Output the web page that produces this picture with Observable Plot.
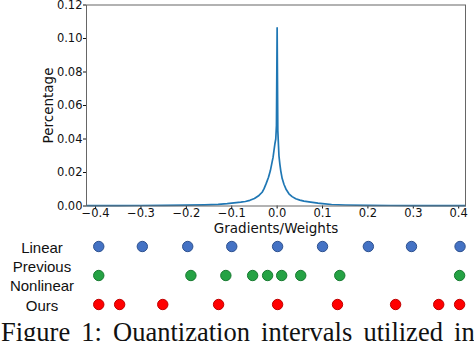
<!DOCTYPE html>
<html>
<head>
<meta charset="utf-8">
<script src="https://cdn.jsdelivr.net/npm/d3@7"></script>
<script src="https://cdn.jsdelivr.net/npm/@observablehq/plot@0.6"></script>
<style>
  html, body { margin: 0; padding: 0; background: #fff; }
  #fig { position: relative; width: 474px; height: 341px; overflow: hidden; background: #fff; }
  #hist { position: absolute; left: 0; top: 0; }
  #levels { position: absolute; left: 0; top: 230px; }
  #caption {
    position: absolute; left: 1px; top: 318.5px; white-space: pre;
    font-family: "Liberation Serif", "Times New Roman", serif; font-size: 26.5px;
    line-height: 26.5px; color: #111; word-spacing: 4.5px;
  }
</style>
</head>
<body>
<div id="fig">
  <div id="hist"></div>
  <div id="levels"></div>
  <div id="caption">Figure 1: Quantization intervals utilized in</div>
</div>
<script>
// Histogram of gradient/weight values (fraction of entries per bin)
const gradX = [
  -0.419, -0.35, -0.30, -0.25, -0.20, -0.16, -0.13, -0.11, -0.10, -0.09,
  -0.08, -0.07, -0.06, -0.05, -0.04, -0.033, -0.029, -0.024, -0.019, -0.015,
  -0.012, -0.009, -0.007, -0.005, -0.003, -0.0015, 0, 0.0015, 0.003, 0.004,
  0.006, 0.008, 0.011, 0.015, 0.020, 0.026, 0.033, 0.041, 0.05, 0.059,
  0.074, 0.09, 0.10, 0.12, 0.15, 0.20, 0.25, 0.30, 0.35, 0.414
];
const gradPct = [
  0.0002, 0.0002, 0.0003, 0.0004, 0.0005, 0.0007, 0.0010, 0.0014, 0.0017, 0.0020,
  0.0023, 0.0027, 0.0034, 0.0045, 0.0063, 0.0082, 0.0102, 0.0135, 0.0172, 0.0210,
  0.0250, 0.0290, 0.0330, 0.0370, 0.0400, 0.0480, 0.1063, 0.0450, 0.0360, 0.0300,
  0.0250, 0.0210, 0.0165, 0.0130, 0.0098, 0.0073, 0.0056, 0.0043, 0.0035, 0.0029,
  0.0023, 0.0017, 0.0014, 0.0009, 0.0006, 0.0004, 0.0003, 0.0002, 0.0002, 0.0002
];
const xTicks = [-0.4, -0.3, -0.2, -0.1, 0, 0.1, 0.2, 0.3, 0.4];
const yTicks = [0, 0.02, 0.04, 0.06, 0.08, 0.10, 0.12];

// Quantization levels chosen by each scheme
const rowNames = ["Linear", "Previous\nNonlinear", "Ours"];
const linearLevels   = [-0.393, -0.297, -0.197, -0.100, 0.001, 0.100, 0.201, 0.296, 0.403];
const previousLevels = [-0.393, -0.190, -0.113, -0.054, -0.021, 0.010, 0.052, 0.138, 0.402];
const oursLevels     = [-0.393, -0.347, -0.252, -0.129, 0.001, 0.133, 0.261, 0.356, 0.402];
const rowFill   = ["#4472c4", "#25a244", "#ff0000"];
const rowStroke = ["#2f528f", "#187a31", "#c00000"];

const xDomain = [-0.42, 0.415];
const W = 474, ML = 86, MR = 9;

const hist = d3.range(gradX.length).map(i => ({x: gradX[i], y: gradPct[i]}));

const histPlot = Plot.plot({
  width: W, height: 236,
  marginLeft: ML, marginRight: MR, marginTop: 4.5, marginBottom: 30.5,
  style: {fontFamily: "DejaVu Sans", fontSize: "11.5px", color: "#111", background: "#fff"},
  x: {domain: xDomain, ticks: xTicks, tickFormat: d3.format(".1f"), tickSize: 3, tickPadding: 0, label: null},
  y: {domain: [0, 0.12], ticks: yTicks, tickFormat: d3.format(".2f"), tickSize: 3, tickPadding: 1, label: null},
  marks: [
    Plot.line(hist, {x: "x", y: "y", stroke: "#1f77b4", strokeWidth: 1.7}),
    Plot.frame({stroke: "#666", strokeWidth: 1}),
    Plot.text(["Gradients/Weights"], {frameAnchor: "bottom", dy: 23, fontSize: 13.5, textAnchor: "middle", lineAnchor: "middle", fill: "#111"}),
    Plot.text(["Percentage"], {frameAnchor: "left", dx: -37.7, rotate: -90, fontSize: 13.5, textAnchor: "middle", lineAnchor: "middle", fill: "#111"})
  ]
});
document.getElementById("hist").append(histPlot);

const levelRows = [linearLevels, previousLevels, oursLevels];
const levelsPlot = Plot.plot({
  width: W, height: 90,
  marginLeft: ML, marginRight: MR, marginTop: 15, marginBottom: 16,
  style: {fontFamily: "Liberation Sans", fontSize: "15px", color: "#111", background: "transparent"},
  x: {domain: xDomain, axis: null},
  y: {type: "point", domain: rowNames, padding: 0, axis: null},
  marks: [
    Plot.text(rowNames, {y: d => d, frameAnchor: "left", dx: -44.5, textAnchor: "middle", lineAnchor: "middle", lineHeight: 1.27, fontSize: 15, fill: "#111"}),
    ...levelRows.map((levels, i) => Plot.dot(levels, {
      x: d => d, y: () => rowNames[i], r: 5.2,
      fill: rowFill[i], stroke: rowStroke[i], strokeWidth: 1
    }))
  ]
});
document.getElementById("levels").append(levelsPlot);
</script>
</body>
</html>
